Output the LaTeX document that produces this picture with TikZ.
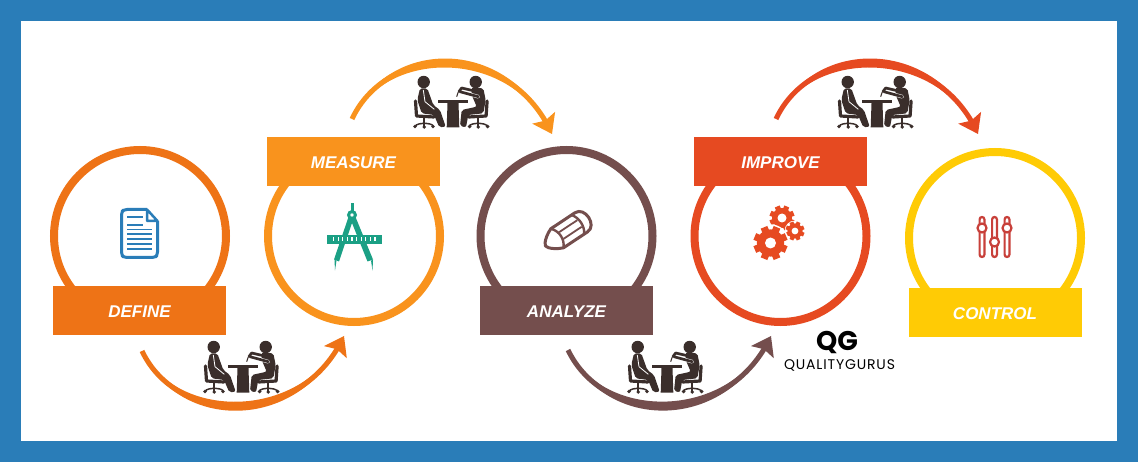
\documentclass[tikz,border=0pt]{standalone}
\usepackage{fontspec}
\setmainfont{Liberation Sans}
\newfontfamily\logofont{Poppins}
\usetikzlibrary{arrows.meta,bending}
\definecolor{framec}{HTML}{2A7DB8}
\definecolor{cdef}{HTML}{EE7316}
\definecolor{cmea}{HTML}{F9931D}
\definecolor{cana}{HTML}{744E4D}
\definecolor{cimp}{HTML}{E64A21}
\definecolor{cctl}{HTML}{FFCB05}
\definecolor{dark}{HTML}{3A2E2B}
\definecolor{green1}{HTML}{1BA085}
\definecolor{slid}{HTML}{C8403A}
\tikzset{
  ring/.style={circle,draw=#1,fill=white,line width=8pt,minimum size=172pt,inner sep=0pt},
  banner/.style={rectangle,fill=#1,minimum width=173pt,minimum height=49pt,inner sep=0pt,text=white,
    text height=14pt,text depth=0pt,
    font=\fontsize{17}{20}\selectfont\bfseries\itshape},
  flow/.style={draw=#1,line width=5pt,-{Stealth[length=18pt,width=25pt,inset=3pt,flex=1]}},
}
% colour, start, end, x of control 1, x of control 2, y of controls
\newcommand{\flowarc}[6]{%
  \fill[#1] (#2) .. controls ([yshift=6pt]#4,#6) and ([yshift=6pt]#5,#6) .. (#3) .. controls ([yshift=-6pt]#5,#6) and ([yshift=-6pt]#4,#6) .. (#2) -- cycle;
  \draw[flow=#1] (#2) .. controls (#4,#6) and (#5,#6) .. (#3);
}
\newcommand{\chairicon}{%
  \draw[dark,line width=3.2pt,line cap=round,line join=round] (-37.5,1) -- (-36.5,16) -- (-19,17);
  \draw[dark,line width=2pt] (-28.7,17) -- (-28.7,26);
  \draw[dark,line width=1.5pt] (-37.5,26) .. controls (-36,22.5) and (-21,22.5) .. (-20,26);
  \fill[dark] (-38,26.5) circle (1.9) (-28.7,27) circle (1.9) (-20,26.5) circle (1.9);
}
\newcommand{\meeting}[1]{%
  \begin{scope}[shift={(#1)}]
    \chairicon
    \begin{scope}[shift={(-3.4,0)},xscale=-1]\chairicon\end{scope}
    % table
    \fill[dark] (-15,0) rectangle (15,3);
    \fill[dark] (-5.5,3) -- (5.5,3) -- (6.3,27.5) -- (-6.3,27.5) -- cycle;
    % left person
    \fill[dark] (-29.3,-18) circle (6.2);
    \fill[dark,rounded corners=2pt] (-33,-11.7) -- (-25.7,-11.7) -- (-19.7,5) -- (-13,10) -- (-7.3,26.7) -- (-13.7,27.3) -- (-19,15) -- (-31.3,13.3) -- (-35.7,0) -- cycle;
    \draw[white,line width=.8pt] (-29.7,-10) -- (-28,1.7) -- (-18.7,9.3);
    % right person
    \fill[dark] (22.7,-18) circle (6.2);
    \fill[dark,rounded corners=2pt] (18.7,-12.7) -- (30.3,-11.7) -- (32.7,0) -- (30.3,13.3) -- (15.3,15) -- (13,27.3) -- (7,26) -- (8.7,10) -- (23.7,6.7) -- (18.7,-5) -- cycle;
    \draw[white,line width=3.6pt,line cap=round] (7,-8.3) -- (25.3,-3.3);
    \draw[dark,line width=2.7pt,line cap=round] (7,-8.3) -- (25.3,-3.3);
    \draw[dark,line width=2.7pt,line cap=round,line join=round] (6,-8.5) -- (8.7,-12) -- (23.7,-8.5);
    \draw[dark,line width=1pt] (5.3,-8.3) -- (3.7,-3.3);
  \end{scope}%
}
\newcommand{\gearicon}[3]{% centre, outer radius, hole radius
  \fill[white] (#1) circle (#2*1.1);
  \fill[cimp] (#1) circle (#2*.8);
  \foreach \a in {0,45,...,315}{
    \draw[cimp,line width=#2*.42pt] (#1) -- ++(\a+22.5:#2);
  }
  \fill[white] (#1) circle (#3);
}
\newcommand{\sliderbar}[3]{% x, top, knob y
  \draw[slid,line width=2.2pt,rounded corners=2.4pt] (#1-2.4,#2) rectangle (#1+2.4,257);
  \draw[slid,line width=2.2pt,fill=white] (#1,#3) circle (4.5);
}
\begin{document}
\begin{tikzpicture}[x=1pt,y=-1pt]
\useasboundingbox (0,0) rectangle (1138,462);
\fill[framec] (0,0) rectangle (1138,462);
\fill[white] (21,21) rectangle (1117,441);

% rings
\node[ring=cdef] (define) at (140,236) {};
\node[ring=cmea] (measure) at (354,236) {};
\node[ring=cana] (analyze) at (566.5,236) {};
\node[ring=cimp] (improve) at (780.5,236) {};
\node[ring=cctl] (control) at (995,238) {};

% banners
\node[banner=cdef] (bdefine) at (139.5,310.5) {DEFINE};
\node[banner=cmea] (bmeasure) at (353.5,162) {MEASURE};
\node[banner=cana] (banalyze) at (566.5,310.5) {ANALYZE};
\node[banner=cimp] (bimprove) at (780.5,162) {IMPROVE};
\node[banner=cctl] (bcontrol) at (995,312.5) {CONTROL};

% flow arrows
\coordinate (a1s) at (142,351); \coordinate (a1e) at (344,336);
\coordinate (a2s) at (352,119); \coordinate (a2e) at (552,134);
\coordinate (a3s) at (568,350); \coordinate (a3e) at (771,336);
\coordinate (a4s) at (776,119); \coordinate (a4e) at (978,134);
\flowarc{cdef}{a1s}{a1e}{178}{302}{427}
\flowarc{cmea}{a2s}{a2e}{388}{511}{42}
\flowarc{cana}{a3s}{a3e}{605}{729}{427}
\flowarc{cimp}{a4s}{a4e}{812}{937}{42}

% meetings
\meeting{243,365}
\meeting{453,100}
\meeting{667,365}
\meeting{877,100}

% document icon
\draw[framec,line width=3pt,line join=round,rounded corners=3pt] (147,209.5) -- (124,209.5) -- (121.5,212) -- (121.5,255) -- (124,257.5) -- (155,257.5) -- (157.5,255) -- (157.5,221);
\draw[framec,line width=2.5pt,line join=round] (147,209.5) -- (157.5,221) -- (147,221) -- cycle;
\draw[framec,line width=2.4pt] (127,217) -- (143,217);
\draw[framec,line width=2pt] (127,225) -- (143,225);
\draw[framec,line width=1.2pt] (127,229.5) -- (152,229.5);
\foreach \y in {234,239,244,249}{\draw[framec,line width=1.9pt] (127,\y) -- (152,\y);}

% compass icon
\fill[green1] (350.5,203) rectangle (353.5,212);
\fill[green1] (348.5,217) -- (355.5,217) -- (373,259.5) -- (367.5,261.5) -- (352,223) -- (339,261.5) -- (334,259.5) -- cycle;
\fill[green1] (334.5,260) -- (336.5,260.5) -- (335,270.5) -- cycle;
\fill[green1] (371,260.5) -- (373,260) -- (372.5,270.5) -- cycle;
\draw[green1,line width=3pt,fill=white] (352,215) circle (3.4);
\fill[green1] (327,235) rectangle (382,244);
\foreach \i in {0,...,9}{\fill[white] (333+\i*4.6,237) rectangle (334.2+\i*4.6,241);}

% pencil icon
\begin{scope}[shift={(545.5,246)},x={(.83pt,.55pt)},y={(-.55pt,.83pt)}]
  \draw[cana,line width=3pt,line join=round,fill=white] (14,11.5) -- (43,11.5) .. controls (55,11.5) and (55,-11.5) .. (43,-11.5) -- (14,-11.5) .. controls (8,-9) and (4,-6) .. (1.5,-3) .. controls (-.5,-1.5) and (-.5,1.5) .. (1.5,3) .. controls (4,6) and (8,9) .. (14,11.5) -- cycle;
  \draw[cana,line width=2.4pt] (14,-11.5) .. controls (20,-5) and (20,5) .. (14,11.5);
  \draw[cana,line width=2.4pt] (39,-11.5) .. controls (44,-5) and (44,5) .. (39,11.5);
  \draw[cana,line width=1.8pt] (19,-4) -- (41,-4) (19,4) -- (41,4);
\end{scope}

% gear icon
\gearicon{782,218}{12.5}{4.5}
\gearicon{795,231}{9.5}{3.4}
\gearicon{770.5,243}{17}{5.5}

% slider icon
\sliderbar{982}{217}{228}
\sliderbar{994.5}{217}{242}
\sliderbar{1007}{217}{228}

% logo
\node[inner sep=0pt,font=\logofont\bfseries\fontsize{27}{28}\selectfont] (qg) at (837,343) {QG};
\node[inner sep=0pt,font=\logofont\fontsize{14}{15}\selectfont\addfontfeature{LetterSpace=6}] (qgname) at (839.5,365) {QUALITYGURUS};
\end{tikzpicture}
\end{document}
